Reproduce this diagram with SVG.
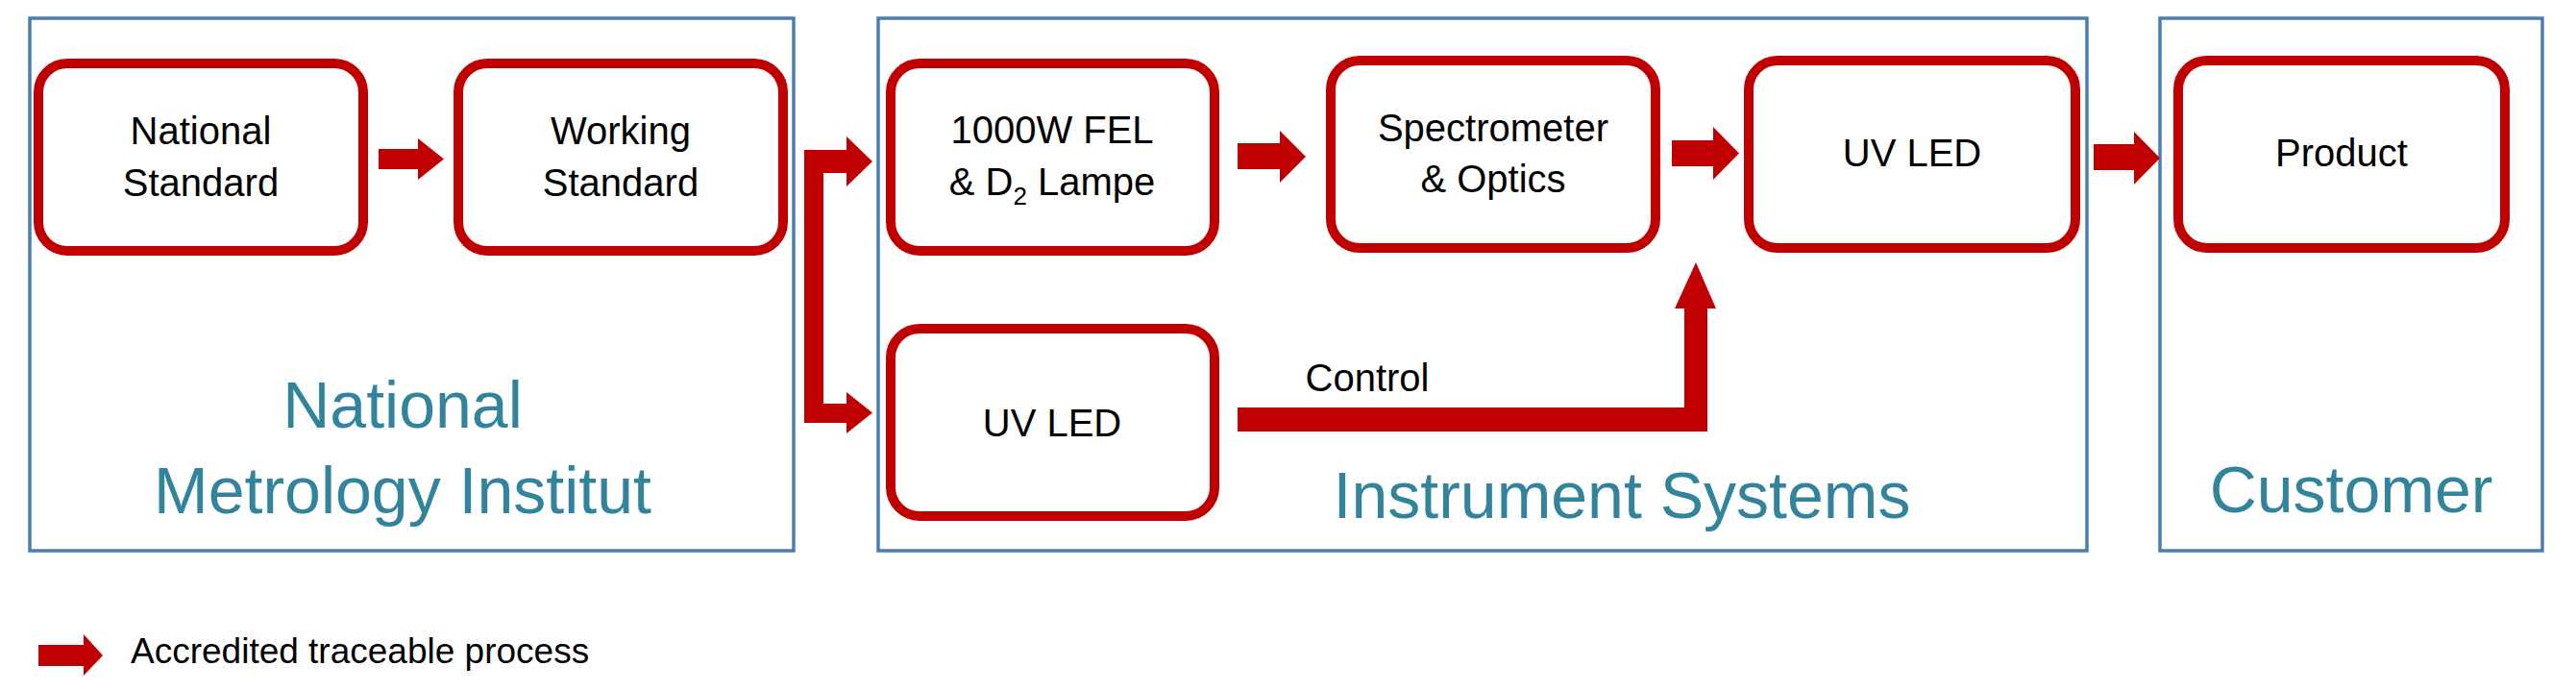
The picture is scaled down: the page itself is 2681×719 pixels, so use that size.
<svg xmlns="http://www.w3.org/2000/svg" width="2681" height="719" viewBox="0 0 2681 719">
<style>
.grp{fill:none;stroke:#4A7DB0;stroke-width:3.5}
.node{fill:#fff;stroke:#C00000;stroke-width:10}
.t{font-family:"Liberation Sans",Arial,sans-serif;font-size:40px;fill:#000;text-anchor:middle}
.big{font-family:"Liberation Sans",Arial,sans-serif;font-size:68px;fill:#31849B;text-anchor:middle}
.arr{fill:#C00000}
</style>
<rect width="2681" height="719" fill="#fff"/>
<g id="nmi"><rect class="grp" x="31" y="19" width="795" height="554"/>
<text class="big" x="419" y="445">National</text><text class="big" x="419" y="534">Metrology Institut</text></g>
<g id="is"><rect class="grp" x="914" y="19" width="1258" height="554"/>
<text class="big" x="1688" y="539">Instrument Systems</text></g>
<g id="cust"><rect class="grp" x="2248" y="19" width="398" height="554"/>
<text class="big" x="2447" y="533">Customer</text></g>
<g id="n1"><rect class="node" x="40" y="66" width="338" height="195" rx="30"/>
<text class="t" x="209" y="150">National</text><text class="t" x="209" y="204">Standard</text></g>
<g id="n2"><rect class="node" x="477" y="66" width="338" height="195" rx="30"/>
<text class="t" x="646" y="150">Working</text><text class="t" x="646" y="204">Standard</text></g>
<g id="n3"><rect class="node" x="927" y="66" width="337" height="195" rx="30"/>
<text class="t" x="1095" y="149">1000W FEL</text><text class="t" x="1095" y="203">&amp; D<tspan font-size="26" dy="10">2</tspan><tspan dy="-10"> Lampe</tspan></text></g>
<g id="n4"><rect class="node" x="1385" y="63" width="338" height="195" rx="30"/>
<text class="t" x="1554" y="147">Spectrometer</text><text class="t" x="1554" y="200">&amp; Optics</text></g>
<g id="n5"><rect class="node" x="1820" y="63" width="340" height="195" rx="30"/>
<text class="t" x="1990" y="173">UV LED</text></g>
<g id="n6"><rect class="node" x="2267" y="63" width="340" height="195" rx="30"/>
<text class="t" x="2437" y="173">Product</text></g>
<g id="n7"><rect class="node" x="927" y="342" width="337" height="195" rx="30"/>
<text class="t" x="1095" y="454">UV LED</text></g>
<g id="connectors">
<polygon class="arr" points="394,155 435,155 435,144 462,165.5 435,187 435,176 394,176"/>
<polygon class="arr" points="1288,149 1332,149 1332,136 1359,163 1332,190 1332,176 1288,176"/>
<polygon class="arr" points="1740,146 1783,146 1783,132 1810,159.5 1783,187 1783,173 1740,173"/>
<polygon class="arr" points="2179,150 2221,150 2221,137 2248,164.5 2221,192 2221,177 2179,177"/>
<polygon class="arr" points="837,156 881,156 881,142 908,168 881,194 881,180 857,180 857,420 881,420 881,408 908,429.5 881,451 881,440 837,440"/>
<polygon class="arr" points="1288,424 1753,424 1753,321 1743,321 1765,273 1786,321 1777,321 1777,449 1288,449"/>
<text class="t" x="1423" y="407" text-anchor="start">Control</text>
</g>
<g id="legend">
<polygon class="arr" points="40,671 87,671 87,660 107,682 87,703 87,693 40,693"/>
<text class="t" x="136" y="690" font-size="37" text-anchor="start" style="font-size:37px;text-anchor:start">Accredited traceable process</text>
</g>
</svg>
